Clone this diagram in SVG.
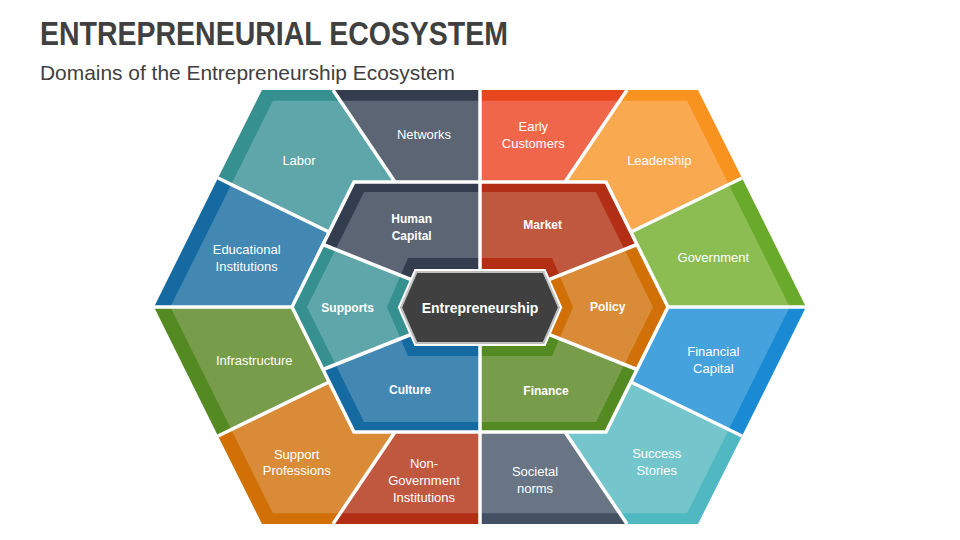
<svg xmlns="http://www.w3.org/2000/svg" width="960" height="540" viewBox="0 0 960 540">
<style>
.lbl{font-family:"Liberation Sans",Arial,sans-serif;font-size:13px;fill:#ffffff;text-anchor:middle}
.mlbl{font-family:"Liberation Sans",Arial,sans-serif;font-size:12px;font-weight:bold;fill:#ffffff;text-anchor:middle}
.div{stroke:#ffffff;stroke-width:3.5;fill:none;stroke-linecap:butt;stroke-linejoin:miter}
</style>
<defs>
<clipPath id="clipOuter"><polygon points="170.3,307 272.9,100.8 687.1,100.8 789.7,307 687.1,513.2 272.9,513.2"/></clipPath>
<clipPath id="clipMid"><path clip-rule="evenodd" d="M307,307 L364,192 L596,192 L653,307 L596,422 L364,422 Z M387,307 L408,258 L552,258 L573,307 L552,356 L408,356 Z"/></clipPath>
</defs>
<rect width="960" height="540" fill="#ffffff"/>
<text x="40" y="45" font-family="'Liberation Sans',Arial,sans-serif" font-size="33" font-weight="bold" fill="#404040" textLength="468" lengthAdjust="spacingAndGlyphs">ENTREPRENEURIAL ECOSYSTEM</text>
<text x="40" y="80" font-family="'Liberation Sans',Arial,sans-serif" font-size="21" fill="#404040" textLength="415" lengthAdjust="spacingAndGlyphs">Domains of the Entrepreneurship Ecosystem</text>

<g id="outer-ring">
<g id="networks">
<polygon points="333,90 480,90 480,182 395,182" fill="#333D4D"/>
<polygon points="333,90 480,90 480,182 395,182" fill="#5B6573" clip-path="url(#clipOuter)"/>
<text class="lbl" x="424" y="138.8">Networks</text>
</g>
<g id="labor">
<polygon points="262,90 333,90 395,182 354,182 329,232 218,178" fill="#35908F"/>
<polygon points="262,90 333,90 395,182 354,182 329,232 218,178" fill="#5EA6AA" clip-path="url(#clipOuter)"/>
<text class="lbl" x="299" y="165.2">Labor</text>
</g>
<g id="educational-institutions">
<polygon points="154,307 218,178 329,232 292,307" fill="#146AA1"/>
<polygon points="154,307 218,178 329,232 292,307" fill="#4387B3" clip-path="url(#clipOuter)"/>
<text class="lbl" x="246.7" y="253.8">Educational</text>
<text class="lbl" x="246.7" y="271.2">Institutions</text>
</g>
<g id="infrastructure">
<polygon points="154,307 292,307 329,382 218,436" fill="#538A22"/>
<polygon points="154,307 292,307 329,382 218,436" fill="#779C4A" clip-path="url(#clipOuter)"/>
<text class="lbl" x="254.3" y="364.5">Infrastructure</text>
</g>
<g id="support-professions">
<polygon points="218,436 329,382 354,432 395,432 333,524 262,524" fill="#D07006"/>
<polygon points="218,436 329,382 354,432 395,432 333,524 262,524" fill="#D98B38" clip-path="url(#clipOuter)"/>
<text class="lbl" x="296.7" y="458.5">Support</text>
<text class="lbl" x="296.7" y="475.2">Professions</text>
</g>
<g id="non-government-institutions">
<polygon points="395,432 480,432 480,524 333,524" fill="#B22E14"/>
<polygon points="395,432 480,432 480,524 333,524" fill="#C0573F" clip-path="url(#clipOuter)"/>
<text class="lbl" x="424" y="467.8">Non-</text>
<text class="lbl" x="424" y="485.2">Government</text>
<text class="lbl" x="424" y="501.8">Institutions</text>
</g>
<g id="societal-norms">
<polygon points="480,432 565,432 627,524 480,524" fill="#435064"/>
<polygon points="480,432 565,432 627,524 480,524" fill="#697585" clip-path="url(#clipOuter)"/>
<text class="lbl" x="535" y="476.2">Societal</text>
<text class="lbl" x="535" y="493.2">norms</text>
</g>
<g id="success-stories">
<polygon points="565,432 606,432 631,382 742,436 698,524 627,524" fill="#4FB8C0"/>
<polygon points="565,432 606,432 631,382 742,436 698,524 627,524" fill="#74C6CC" clip-path="url(#clipOuter)"/>
<text class="lbl" x="656.7" y="457.8">Success</text>
<text class="lbl" x="656.7" y="475.2">Stories</text>
</g>
<g id="financial-capital">
<polygon points="631,382 668,307 806,307 742,436" fill="#1A8AD4"/>
<polygon points="631,382 668,307 806,307 742,436" fill="#45A2DC" clip-path="url(#clipOuter)"/>
<text class="lbl" x="713.3" y="356.2">Financial</text>
<text class="lbl" x="713.3" y="372.8">Capital</text>
</g>
<g id="government">
<polygon points="742,178 806,307 668,307 631,232" fill="#6AAA2A"/>
<polygon points="742,178 806,307 668,307 631,232" fill="#8BBD52" clip-path="url(#clipOuter)"/>
<text class="lbl" x="713.3" y="261.8">Government</text>
</g>
<g id="leadership">
<polygon points="627,90 698,90 742,178 631,232 606,182 565,182" fill="#F7931E"/>
<polygon points="627,90 698,90 742,178 631,232 606,182 565,182" fill="#F9A94F" clip-path="url(#clipOuter)"/>
<text class="lbl" x="659.3" y="165.2">Leadership</text>
</g>
<g id="early-customers">
<polygon points="480,90 627,90 565,182 480,182" fill="#E8461E"/>
<polygon points="480,90 627,90 565,182 480,182" fill="#F0664A" clip-path="url(#clipOuter)"/>
<text class="lbl" x="533.3" y="131.2">Early</text>
<text class="lbl" x="533.3" y="147.8">Customers</text>
</g>
</g>

<g id="middle-ring">
<g id="human-capital">
<polygon points="480,307 323,244.5 354,182 480,182" fill="#333D4D"/>
<polygon points="480,307 323,244.5 354,182 480,182" fill="#5B6573" clip-path="url(#clipMid)"/>
<text class="mlbl" x="411.7" y="222.6">Human</text>
<text class="mlbl" x="411.7" y="240">Capital</text>
</g>
<g id="market">
<polygon points="480,307 480,182 606,182 637,244.5" fill="#B22E14"/>
<polygon points="480,307 480,182 606,182 637,244.5" fill="#C0573F" clip-path="url(#clipMid)"/>
<text class="mlbl" x="542.7" y="228.6">Market</text>
</g>
<g id="policy">
<polygon points="480,307 637,244.5 668,307 637,369.5" fill="#D07006"/>
<polygon points="480,307 637,244.5 668,307 637,369.5" fill="#D98B38" clip-path="url(#clipMid)"/>
<text class="mlbl" x="607.7" y="311">Policy</text>
</g>
<g id="finance">
<polygon points="480,307 637,369.5 606,432 480,432" fill="#538A22"/>
<polygon points="480,307 637,369.5 606,432 480,432" fill="#779C4A" clip-path="url(#clipMid)"/>
<text class="mlbl" x="546" y="395">Finance</text>
</g>
<g id="culture">
<polygon points="480,307 480,432 354,432 323,369.5" fill="#146AA1"/>
<polygon points="480,307 480,432 354,432 323,369.5" fill="#4387B3" clip-path="url(#clipMid)"/>
<text class="mlbl" x="410" y="394.3">Culture</text>
</g>
<g id="supports">
<polygon points="480,307 323,369.5 292,307 323,244.5" fill="#35908F"/>
<polygon points="480,307 323,369.5 292,307 323,244.5" fill="#5EA6AA" clip-path="url(#clipMid)"/>
<text class="mlbl" x="347.7" y="311.6">Supports</text>
</g>
</g>

<g id="connectors">
<polygon class="div" points="292,307 354,182 606,182 668,307 606,432 354,432"/>
<line class="div" x1="480" y1="88" x2="480" y2="526"/>
<line class="div" x1="150" y1="307" x2="292" y2="307"/>
<line class="div" x1="668" y1="307" x2="810" y2="307"/>
<line class="div" x1="333" y1="90" x2="395" y2="182"/>
<line class="div" x1="627" y1="90" x2="565" y2="182"/>
<line class="div" x1="333" y1="524" x2="395" y2="432"/>
<line class="div" x1="627" y1="524" x2="565" y2="432"/>
<line class="div" x1="218" y1="178" x2="329" y2="232"/>
<line class="div" x1="742" y1="178" x2="631" y2="232"/>
<line class="div" x1="218" y1="436" x2="329" y2="382"/>
<line class="div" x1="742" y1="436" x2="631" y2="382"/>
<line class="div" x1="480" y1="307" x2="323" y2="244.5"/>
<line class="div" x1="480" y1="307" x2="637" y2="244.5"/>
<line class="div" x1="480" y1="307" x2="323" y2="369.5"/>
<line class="div" x1="480" y1="307" x2="637" y2="369.5"/>
</g>

<g id="entrepreneurship">
<polygon points="401,307.5 416.5,272 543.5,272 559,307.5 543.5,343 416.5,343" fill="#404040" stroke="#ffffff" stroke-width="6" stroke-linejoin="miter"/>
<polygon points="401,307.5 416.5,272 543.5,272 559,307.5 543.5,343 416.5,343" fill="#404040" stroke="#BFBFBF" stroke-width="2" stroke-linejoin="miter"/>
<text x="480" y="312.5" font-family="'Liberation Sans',Arial,sans-serif" font-size="14" font-weight="bold" fill="#ffffff" text-anchor="middle">Entrepreneurship</text>
</g>
</svg>
